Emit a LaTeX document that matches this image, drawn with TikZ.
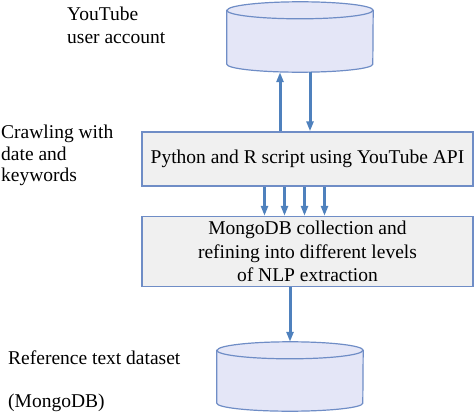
\documentclass[tikz,border=0pt]{standalone}
\usepackage{fontspec}
\setmainfont{Liberation Serif}
\usetikzlibrary{arrows.meta, positioning}

\definecolor{dbfill}{HTML}{E4E6F7}
\definecolor{dbline}{HTML}{6F8DC6}
\definecolor{boxfill}{HTML}{F0F0F0}
\definecolor{flowblue}{HTML}{4F81BD}

% Zylinder um einen (unsichtbaren) Knoten zeichnen
\newcommand{\dbshape}[1]{%
  \draw[dbdraw] ([yshift=-8.5pt]#1.north west) -- ([yshift=8pt]#1.south west)
    arc (180:360:73pt and 8pt) -- ([yshift=-8.5pt]#1.north east)
    arc (0:180:73pt and 8.5pt) -- cycle;
  \draw[dbdraw, fill=none] ([yshift=-8.5pt]#1.north west) arc (180:360:73pt and 8.5pt);
}

\begin{document}
\begin{tikzpicture}[x=1pt, y=-1pt]

\tikzset{
  db/.style={rectangle, draw=none, minimum width=146pt, inner sep=0pt},
  dbdraw/.style={draw=dbline, line width=1.2pt, fill=dbfill},
  stage/.style={rectangle, draw=dbline, line width=1.4pt, fill=boxfill, minimum width=331pt, align=center, inner sep=0pt, font={\fontsize{19.5}{23.5}\selectfont}},
  lbl/.style={align=left, inner sep=0pt, font={\fontsize{19.5}{23}\selectfont}},
  flow/.style={draw=flowblue, line width=3pt, -{Triangle[length=10pt, width=7pt]}},
  >={Latex}
}
\useasboundingbox (0,0) rectangle (474,414);

% --- Datenbanken ---
\node[db, minimum height=70pt] (ytacc) at (300,37) {};
\node[db, minimum height=69pt] (refdb) at (290,376.5) {};
\dbshape{ytacc}
\dbshape{refdb}

% --- Verarbeitung ---
\node[stage, minimum height=54pt] (pyscript) at (307.5,159) {Python and R script using YouTube API};
\node[stage, minimum height=70pt] (nlp) at (307.5,251.5) {MongoDB collection and\\refining into different levels\\of NLP extraction};

% --- Kanten ---
\draw[flow] ([xshift=-20pt]ytacc.south |- pyscript.north) -- ([xshift=-20pt]ytacc.south);
\draw[flow] ([xshift=10pt]ytacc.south) -- ([xshift=10pt]ytacc.south |- pyscript.north);
\foreach \dx in {-43,-23,-3,17}
  \draw[flow] ([xshift=\dx pt]pyscript.south) -- ([xshift=\dx pt]nlp.north);
\draw[flow] (refdb.north |- nlp.south) -- (refdb.north);

% --- Beschriftungen ---
\node[lbl, anchor=west] (ytlbl) at (67,25.5) {YouTube\\user account};
\node[lbl, anchor=west, font={\fontsize{19.5}{21.5}\selectfont}] (crawllbl) at (1,155.5) {Crawling with\\date and\\keywords};
\node[lbl, anchor=west] (reflbl) at (8,358) {Reference text dataset};
\node[lbl, anchor=west] (mongolbl) at (8,403) {(MongoDB)};

\end{tikzpicture}
\end{document}
